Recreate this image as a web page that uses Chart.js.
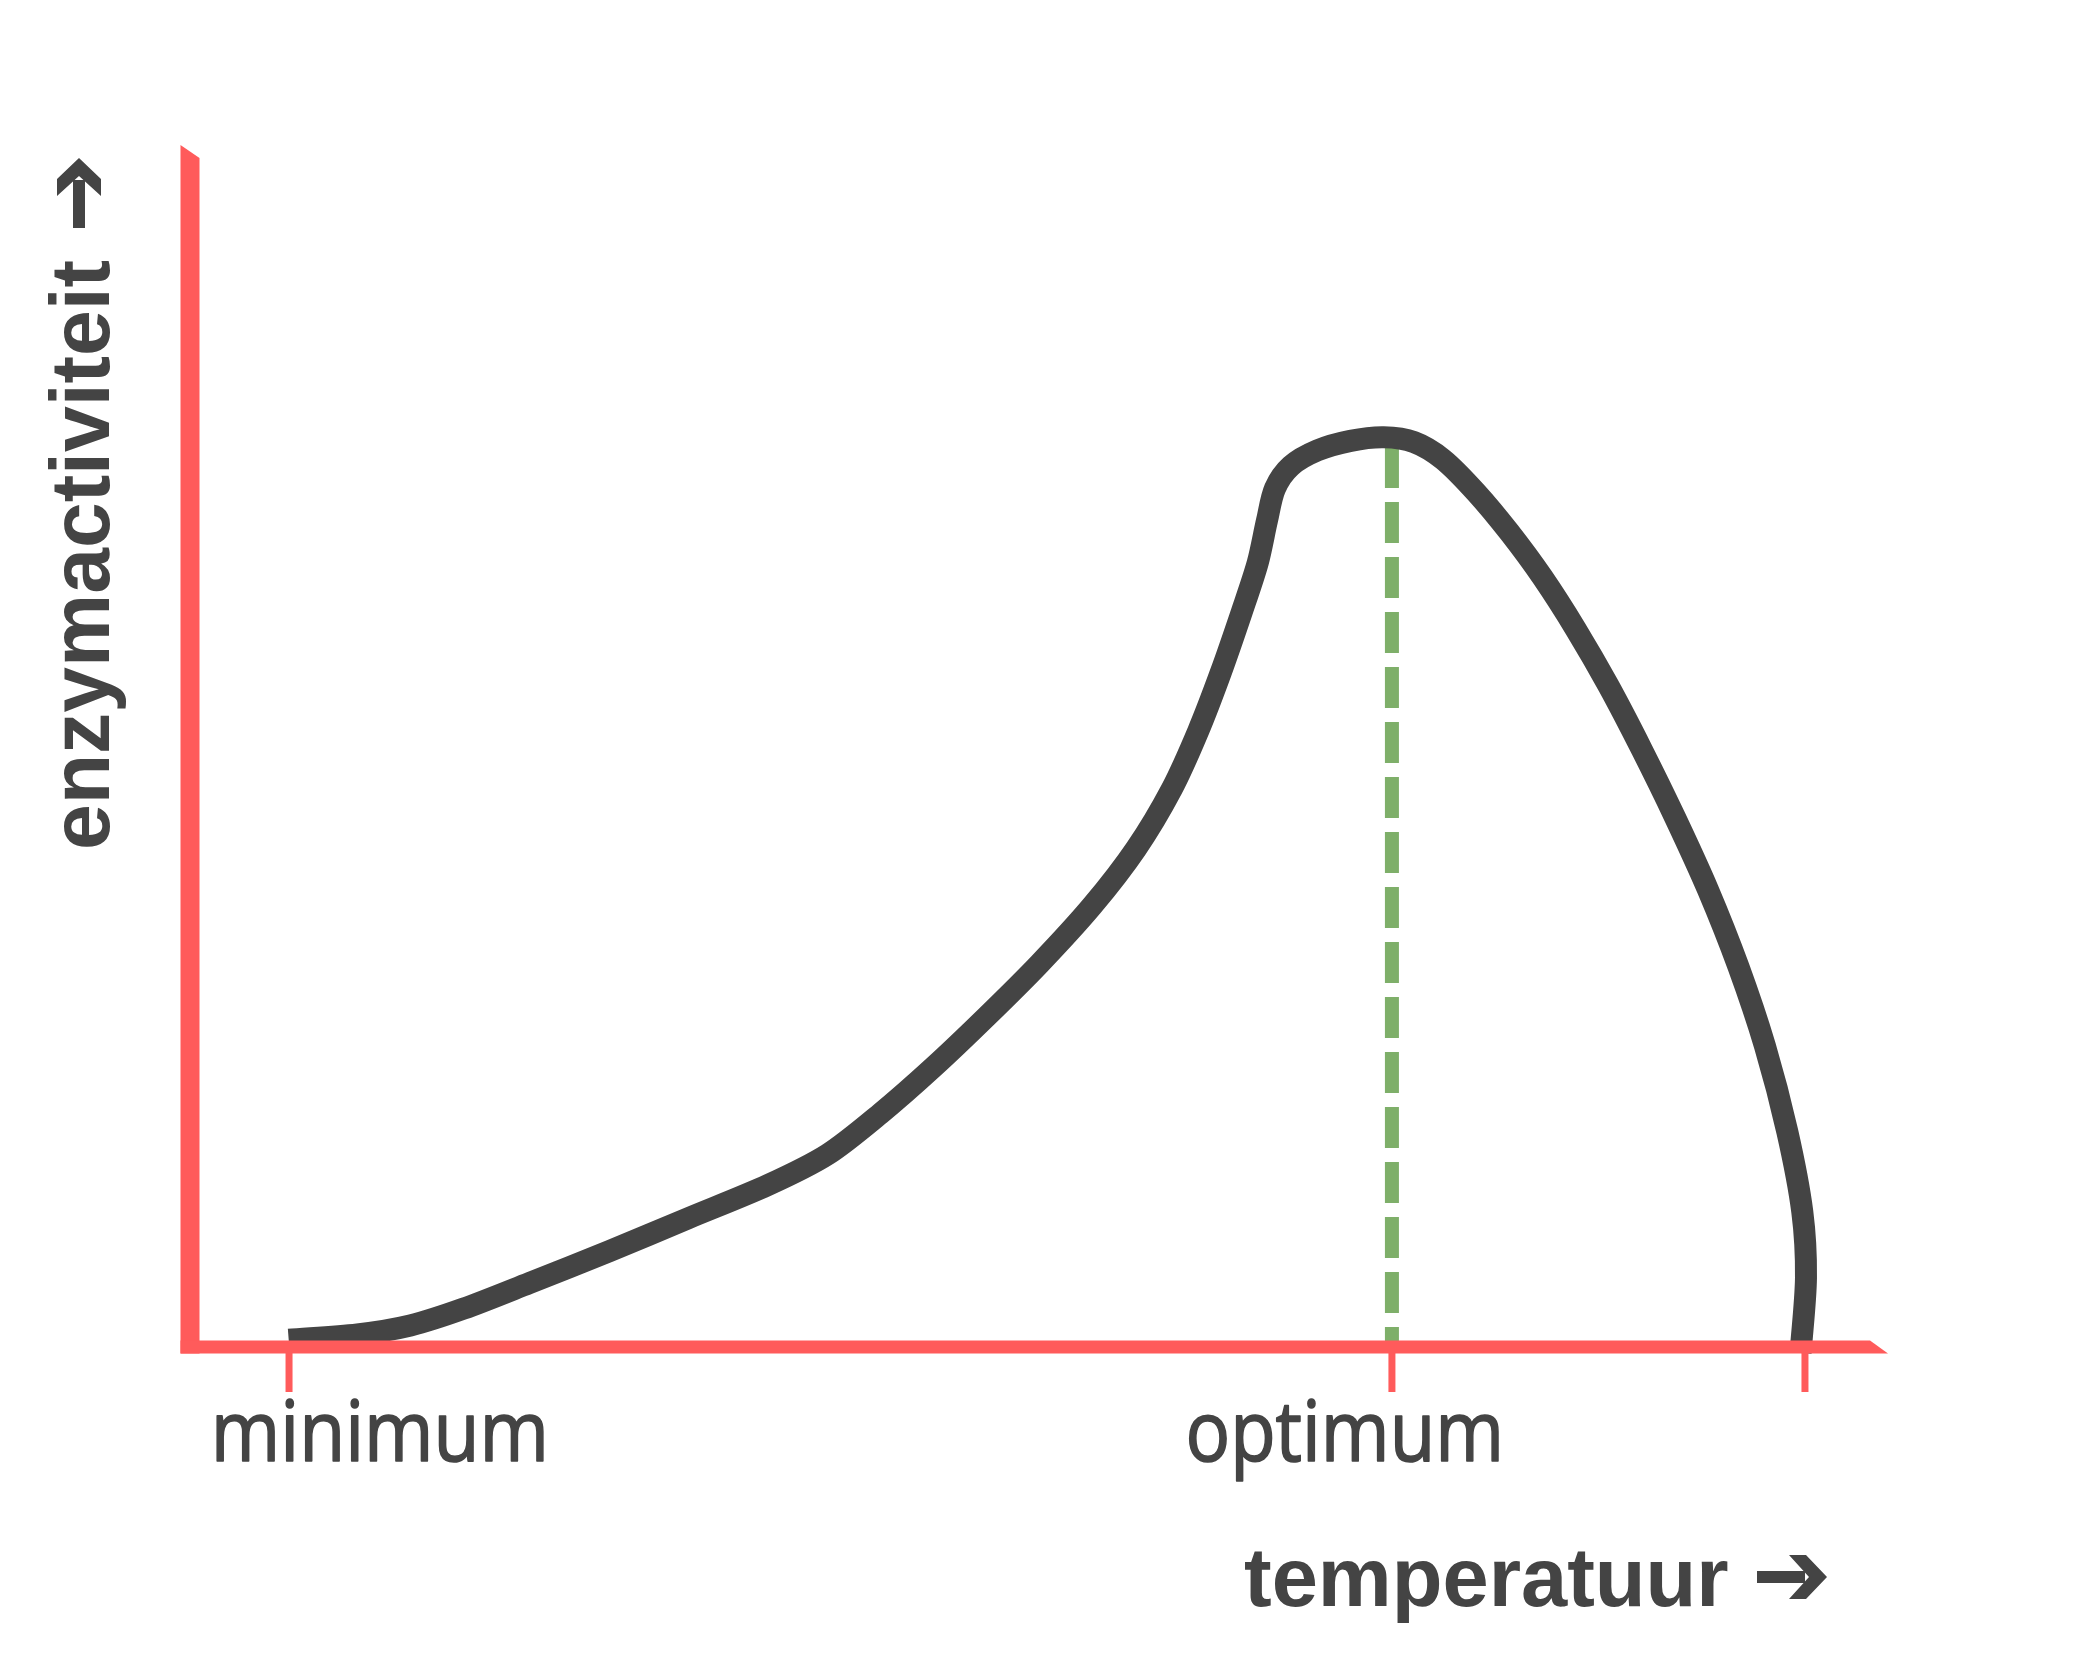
<!DOCTYPE html>
<html>
<head>
<meta charset="utf-8">
<title>enzymactiviteit</title>
<script src="https://cdn.jsdelivr.net/npm/chart.js"></script>
<style>
  html, body { margin: 0; padding: 0; background: #ffffff; }
  canvas { display: block; }
</style>
</head>
<body>
<canvas id="grafiek" width="2076" height="1677"></canvas>
<script>
// temperatuur (x) en enzymactiviteit (y), in relatieve eenheden 0-100
const temperatuur = [5.84, 9.91, 13.04, 16.18, 20.09, 24.80, 29.50, 34.20, 37.72, 40.86,
    43.99, 47.12, 50.26, 53.39, 55.98, 58.09, 59.66, 60.99, 62.24, 63.18, 63.73, 64.20, 65.14,
    66.71, 68.67, 70.63, 72.43, 74.15, 76.11, 78.07, 80.03, 81.99, 83.94, 85.90, 87.86, 89.82,
    91.62, 93.19, 94.52, 95.40, 95.62, 95.30];
const activiteit = [0.6, 1.05, 1.8, 3.2, 5.35, 8.00, 10.77, 13.53, 16.08, 19.51,
    23.38, 27.58, 32.01, 36.87, 41.63, 46.61, 51.47, 56.34, 61.43, 65.52, 69.06, 71.72, 73.60,
    74.9, 75.7, 76.0, 75.6, 74.15, 71.38, 68.06, 64.30, 59.99, 55.23, 49.93, 44.28, 38.20,
    31.78, 25.15, 17.96, 11.32, 5.79, -0.5];

// markeringen op de temperatuur-as
const tickWaarden = [5.86, 71.12, 95.56];
const tickLabels = ['minimum', 'optimum', ''];

// optimum: gestippelde lijn van de as tot net onder de top
const optimumX = 71.12;
const optimumTop = 75.19;

const ROOD = '#ff5b5b';
const DONKER = '#444444';
const GROEN = '#7eaf69';

/**
 * Tekent tekst zodat de inkt precies 'breedte' pixels breed is
 */
function tekstPassend(ctx, tekst, font, x, y, breedte, rand) {
    ctx.save();
    ctx.font = font;
    const m = ctx.measureText(tekst);
    const inkt = m.actualBoundingBoxLeft + m.actualBoundingBoxRight;
    ctx.translate(x, y);
    ctx.scale(breedte / inkt, 1);
    ctx.fillText(tekst, m.actualBoundingBoxLeft, 0);
    if (rand) {
        // iets zwaardere letters
        ctx.strokeStyle = ctx.fillStyle;
        ctx.lineWidth = rand;
        ctx.lineJoin = 'round';
        ctx.strokeText(tekst, m.actualBoundingBoxLeft, 0);
    }
    ctx.restore();
}

/**
 * Dikke pijl (→) vanaf x0, verticaal gecentreerd op yc
 */
function pijl(ctx, x0, yc) {
    ctx.fillRect(x0, yc - 6, 48, 12);
    ctx.beginPath();
    ctx.moveTo(x0 + 32, yc - 22);
    ctx.lineTo(x0 + 49, yc - 22);
    ctx.lineTo(x0 + 70, yc);
    ctx.lineTo(x0 + 49, yc + 22);
    ctx.lineTo(x0 + 32, yc + 22);
    ctx.lineTo(x0 + 52, yc);
    ctx.closePath();
    ctx.fill();
}

// assen met schuine uiteinden, streepjes en teksten
const assenPlugin = {
    id: 'assen',
    afterDatasetsDraw(chart) {
        const { ctx, chartArea: a, scales: { x } } = chart;
        ctx.save();
        ctx.fillStyle = ROOD;

        // verticale as
        ctx.beginPath();
        ctx.moveTo(a.left - 9.5, a.bottom + 6.5);
        ctx.lineTo(a.left - 9.5, a.top - 5);
        ctx.lineTo(a.left + 9.5, a.top + 8);
        ctx.lineTo(a.left + 9.5, a.bottom + 6.5);
        ctx.closePath();
        ctx.fill();

        // horizontale as
        ctx.beginPath();
        ctx.moveTo(a.left - 9.5, a.bottom - 6.5);
        ctx.lineTo(a.right - 10, a.bottom - 6.5);
        ctx.lineTo(a.right + 8, a.bottom + 6.5);
        ctx.lineTo(a.left - 9.5, a.bottom + 6.5);
        ctx.closePath();
        ctx.fill();

        // streepjes
        tickWaarden.forEach(v => {
            const px = x.getPixelForValue(v);
            ctx.fillRect(px - 3.5, a.bottom + 6, 7, 39);
        });

        // labels bij de streepjes
        ctx.fillStyle = DONKER;
        const labelPos = [{ links: 217, breedte: 326 }, { links: 1189, breedte: 309 }];
        tickLabels.forEach((label, i) => {
            if (!label) return;
            tekstPassend(ctx, label, '84px "Open Sans"', labelPos[i].links, a.bottom + 114, labelPos[i].breedte, 1.6);
        });

        // astitels
        const titelFont = 'bold 84px "Liberation Sans", Arial';
        tekstPassend(ctx, 'temperatuur', titelFont, 1245, a.bottom + 259, 483);
        pijl(ctx, 1757, a.bottom + 230);

        ctx.save();
        ctx.translate(109, 847);
        ctx.rotate(-Math.PI / 2);
        tekstPassend(ctx, 'enzymactiviteit', titelFont, 0, 0, 586);
        pijl(ctx, 619, -30);
        ctx.restore();

        ctx.restore();
    }
};

function tekenGrafiek() {
    const ctx = document.getElementById('grafiek').getContext('2d');

    new Chart(ctx, {
        type: 'scatter',
        data: {
            datasets: [
                {
                    label: 'enzymactiviteit',
                    data: temperatuur.map((t, i) => ({ x: t, y: activiteit[i] })),
                    showLine: true,
                    borderColor: DONKER,
                    borderWidth: 22,
                    borderCapStyle: 'butt',
                    borderJoinStyle: 'round',
                    tension: 0.3,
                    pointRadius: 0,
                    clip: false,
                },
                {
                    label: 'optimum',
                    data: [{ x: optimumX, y: optimumTop }, { x: optimumX, y: 0 }],
                    showLine: true,
                    borderColor: GROEN,
                    borderWidth: 14,
                    borderDash: [41, 14],
                    borderCapStyle: 'butt',
                    pointRadius: 0,
                    clip: false,
                }
            ]
        },
        options: {
            responsive: false,
            animation: false,
            devicePixelRatio: 1,
            layout: { padding: { left: 190, right: 196, top: 150, bottom: 330 } },
            plugins: {
                legend: { display: false },
                tooltip: { enabled: false },
            },
            scales: {
                x: { type: 'linear', min: 0, max: 100, display: false },
                y: { type: 'linear', min: 0, max: 100, display: false },
            }
        },
        plugins: [assenPlugin]
    });
}

Promise.all([
    document.fonts.load('84px "Open Sans"'),
    document.fonts.load('bold 84px "Liberation Sans"'),
]).then(tekenGrafiek, tekenGrafiek);
</script>
</body>
</html>
